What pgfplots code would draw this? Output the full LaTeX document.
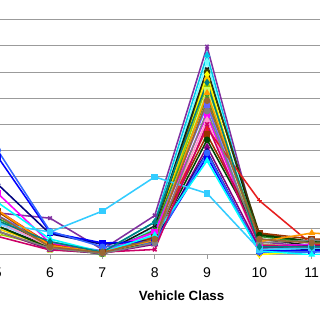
\documentclass[border=0pt]{standalone}
\usepackage{pgfplots}
\pgfplotsset{compat=1.18}
\usepackage{fontspec}
\setmainfont{Liberation Sans}

\definecolor{gridgray}{RGB}{155,155,155}
\definecolor{cA}{RGB}{128,48,160}
\definecolor{cB}{RGB}{0,200,230}
\definecolor{cC}{RGB}{110,255,255}
\definecolor{cD}{RGB}{20,20,20}
\definecolor{cE}{RGB}{60,60,0}
\definecolor{cF}{RGB}{255,255,0}
\definecolor{cG}{RGB}{255,204,0}
\definecolor{cH}{RGB}{153,204,0}
\definecolor{cI}{RGB}{204,255,102}
\definecolor{cJ}{RGB}{51,153,51}
\definecolor{cK}{RGB}{153,204,255}
\definecolor{cL}{RGB}{102,102,255}
\definecolor{cM}{RGB}{255,0,255}
\definecolor{cN}{RGB}{255,153,204}
\definecolor{cO}{RGB}{230,30,30}
\definecolor{cP}{RGB}{153,51,0}
\definecolor{cQ}{RGB}{0,70,0}
\definecolor{cR}{RGB}{128,0,128}
\definecolor{cS}{RGB}{0,0,128}
\definecolor{cT}{RGB}{0,0,255}
\definecolor{cU}{RGB}{51,102,255}
\definecolor{cV}{RGB}{0,255,255}
\definecolor{cW}{RGB}{51,204,255}
\definecolor{cX}{RGB}{255,153,0}
\definecolor{cY}{RGB}{204,0,102}
\definecolor{cZ}{RGB}{128,128,128}
\definecolor{cAA}{RGB}{0,128,128}
\definecolor{cAB}{RGB}{153,102,51}

\begin{document}
\begin{tikzpicture}
\useasboundingbox (0,0) rectangle (80mm,80mm);
\clip (0,0) rectangle (80mm,80mm);
\begin{axis}[
  at={(-0.575mm,16.325mm)}, anchor=south west,
  scale only axis, width=91.6mm, height=65.25mm,
  xmin=5, xmax=12, ymin=0, ymax=10,
  xtick={5,...,12}, ytick={0,...,10}, yticklabels={},
  ymajorgrids, major grid style={draw=gridgray, line width=0.7pt},
  axis x line*=bottom, axis y line*=left,
  x axis line style={-, draw=gridgray, line width=0.7pt},
  y axis line style={draw=none},
  xtick style={draw=gridgray, line width=0.7pt},
  ytick style={draw=none},
  tick align=outside, major tick length=1mm,
  xticklabel style={font=\fontsize{10}{12}\selectfont, yshift=-1mm},
  /pgf/number format/assume math mode=true,
  xlabel={Vehicle Class},
  xlabel style={font=\bfseries\fontsize{9.5}{11}\selectfont,
    at={(axis description cs:0.502,-0.158)}, anchor=center},
  every axis plot/.append style={line width=1.1pt, mark size=1.8pt, mark options={solid}},
]
\addplot[cA, mark=x] coordinates {(5,1.6)(6,1.4)(7,0.2)(8,1.5)(9,7.97)(10,0.5)(11,0.3)(12,0.3)};
\addplot[cB, mark=triangle*] coordinates {(5,1.2)(6,0.5)(7,0.1)(8,1.25)(9,7.65)(10,0.3)(11,0.2)(12,0.2)};
\addplot[cC, mark=diamond*] coordinates {(5,1.0)(6,0.35)(7,0.1)(8,1.0)(9,7.4)(10,0.15)(11,0.1)(12,0.15)};
\addplot[cD, mark=x] coordinates {(5,1.1)(6,0.3)(7,0.05)(8,1.1)(9,7.1)(10,0.6)(11,0.35)(12,0.4)};
\addplot[cE, mark=*] coordinates {(5,1.3)(6,0.35)(7,0.1)(8,0.9)(9,7.0)(10,0.8)(11,0.5)(12,0.5)};
\addplot[cF, mark=diamond*] coordinates {(5,0.9)(6,0.25)(7,0.05)(8,0.7)(9,6.9)(10,0.0)(11,0.15)(12,0.2)};
\addplot[cG, mark=*] coordinates {(5,1.0)(6,0.3)(7,0.1)(8,0.8)(9,6.7)(10,0.05)(11,0.3)(12,0.35)};
\addplot[cH, mark=triangle*] coordinates {(5,0.8)(6,0.3)(7,0.05)(8,0.75)(9,6.5)(10,0.4)(11,0.3)(12,0.3)};
\addplot[cI, mark=square*] coordinates {(5,0.9)(6,0.2)(7,0.05)(8,0.6)(9,6.3)(10,0.3)(11,0.25)(12,0.3)};
\addplot[cJ, mark=x] coordinates {(5,1.4)(6,0.4)(7,0.0)(8,0.95)(9,6.05)(10,0.7)(11,0.45)(12,0.5)};
\addplot[cK, mark=square*] coordinates {(5,1.2)(6,0.35)(7,0.1)(8,0.8)(9,5.86)(10,0.2)(11,0.2)(12,0.25)};
\addplot[cL, mark=square*] coordinates {(5,1.5)(6,0.45)(7,0.15)(8,0.85)(9,5.73)(10,0.25)(11,0.4)(12,0.35)};
\addplot[cM, mark=square*] coordinates {(5,2.35)(6,0.45)(7,0.1)(8,0.87)(9,5.35)(10,0.35)(11,0.37)(12,0.4)};
\addplot[cN, mark=triangle*] coordinates {(5,1.3)(6,0.3)(7,0.05)(8,0.6)(9,5.16)(10,0.2)(11,0.3)(12,0.3)};
\addplot[cO, mark=+] coordinates {(5,1.7)(6,0.4)(7,0.05)(8,0.7)(9,4.84)(10,2.07)(11,0.4)(12,0.3)};
\addplot[cP, mark=square*] coordinates {(5,1.65)(6,0.35)(7,0.1)(8,0.65)(9,4.6)(10,0.83)(11,0.6)(12,0.6)};
\addplot[cQ, mark=*] coordinates {(5,1.1)(6,0.25)(7,0.05)(8,0.5)(9,4.4)(10,0.75)(11,0.5)(12,0.45)};
\addplot[cR, mark=triangle*] coordinates {(5,0.9)(6,0.2)(7,0.05)(8,0.4)(9,4.14)(10,0.25)(11,0.35)(12,0.3)};
\addplot[cS, mark=diamond*] coordinates {(5,2.7)(6,0.8)(7,0.4)(8,0.55)(9,3.95)(10,0.1)(11,0.2)(12,0.25)};
\addplot[cT, mark=square*] coordinates {(5,3.75)(6,0.85)(7,0.45)(8,0.5)(9,3.76)(10,0.15)(11,0.15)(12,0.2)};
\addplot[cU, mark=*] coordinates {(5,4.0)(6,0.9)(7,0.3)(8,0.45)(9,3.9)(10,0.1)(11,0.1)(12,0.15)};
\addplot[cV, mark=triangle*] coordinates {(5,2.0)(6,0.6)(7,0.1)(8,0.75)(9,3.6)(10,0.14)(11,0.0)(12,0.1)};
\addplot[cW, mark=square*] coordinates {(5,1.2)(6,0.87)(7,1.67)(8,2.98)(9,2.35)(10,0.2)(11,0.25)(12,0.3)};
\addplot[cX, mark=triangle*] coordinates {(5,1.7)(6,0.35)(7,0.1)(8,0.55)(9,6.2)(10,0.5)(11,0.83)(12,0.7)};
\addplot[cY, mark=x] coordinates {(5,0.7)(6,0.18)(7,0.1)(8,0.2)(9,5.0)(10,0.35)(11,0.3)(12,0.3)};
\addplot[cZ, mark=*] coordinates {(5,0.9)(6,0.25)(7,0.05)(8,0.45)(9,5.5)(10,0.45)(11,0.55)(12,0.5)};
\addplot[cAA, mark=diamond*] coordinates {(5,1.3)(6,0.5)(7,0.1)(8,1.25)(9,6.6)(10,0.3)(11,0.3)(12,0.3)};
\addplot[cAB, mark=*] coordinates {(5,1.5)(6,0.3)(7,0.08)(8,0.6)(9,5.9)(10,0.6)(11,0.45)(12,0.4)};
\end{axis}
\end{tikzpicture}
\end{document}
